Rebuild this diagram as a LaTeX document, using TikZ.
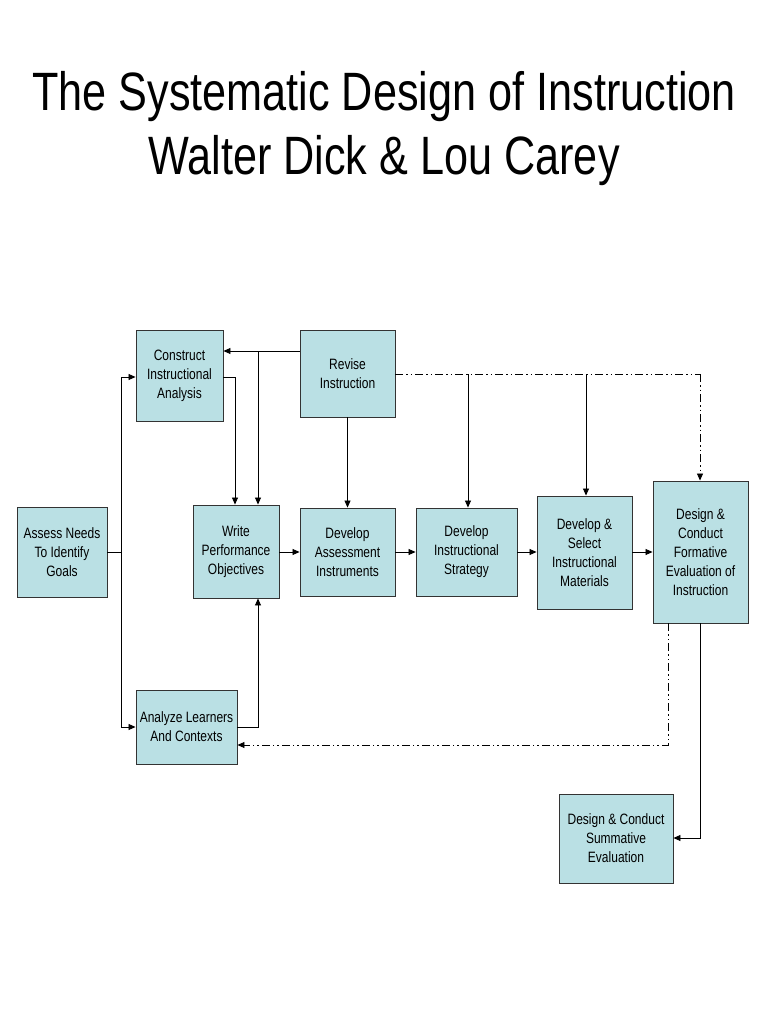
\documentclass[tikz,border=0pt]{standalone}
\usepackage{fontspec}
\setmainfont{Liberation Sans}[FakeStretch=0.8]
\usetikzlibrary{arrows.meta}
\definecolor{boxfill}{RGB}{186,224,228}
\tikzset{
  bx/.style={draw=black!80, line width=0.9pt, fill=boxfill, align=center, font=\fontsize{15}{19}\selectfont, inner sep=0pt},
  ar/.style={-{Triangle[length=7pt,width=6pt]}, line width=0.8pt},
  ln/.style={line width=0.8pt},
  dd/.style={line width=0.8pt, dash pattern=on 8pt off 3pt on 1.5pt off 3pt on 1.5pt off 3pt}
}
\begin{document}
\begin{tikzpicture}[x=1pt,y=-1pt]
\useasboundingbox (0,0) rectangle (768,1024);
\node[font=\fontsize{54}{64}\selectfont, align=center] (title) at (384,129) {The Systematic Design of Instruction\\Walter Dick \& Lou Carey};
\newcommand{\bxat}[6]{\node[bx, minimum width=#4-#2, minimum height=#5-#3] (#1) at ({(#2+#4)/2},{(#3+#5)/2}) {#6};}
\bxat{assess}{17}{507}{107}{597}{Assess Needs\\To Identify\\Goals}
\bxat{construct}{136}{330}{223}{421}{Construct\\Instructional\\Analysis}
\bxat{revise}{300}{330}{395}{417}{Revise\\Instruction}
\bxat{write}{193}{505}{279}{598}{Write\\Performance\\Objectives}
\bxat{devassess}{300}{508}{395}{596}{Develop\\Assessment\\Instruments}
\bxat{devstrat}{416}{508}{517}{596}{Develop\\Instructional\\Strategy}
\bxat{devsel}{537}{496}{632}{609}{Develop \&\\Select\\Instructional\\Materials}
\bxat{form}{653}{481}{748}{623}{Design \&\\Conduct\\Formative\\Evaluation of\\Instruction}
\bxat{analyze}{136}{690}{237}{764}{Analyze Learners\\And Contexts}
\bxat{summ}{559}{794}{673}{883}{Design \& Conduct\\Summative\\Evaluation}
% assess branches
\coordinate (j1) at (121,552);
\draw[ln] (assess.east) -- (j1);
\draw[ar] (j1) |- (construct.west |- 0,377);
\draw[ar] (j1) |- (analyze.west |- 0,727);
% construct -> write
\draw[ar] (construct.east |- 0,377) -| (write.north -| 235,0);
% revise -> construct, write
\draw[ar] (revise.west |- 0,351) -- (construct.east |- 0,351);
\draw[ar] (258,351) -- (write.north -| 258,0);
\draw[ar] (revise) -- (devassess);
% revise dash-dot to formative
\coordinate (rr) at (700,374);
\draw[dd] (revise.east |- 0,374) -- (rr);
\draw[ar, dash pattern=on 8pt off 3pt on 1.5pt off 3pt on 1.5pt off 3pt] (rr) -- (form.north -| rr);
\draw[ar] (468,374) -- (devstrat.north -| 468,0);
\draw[ar] (586,374) -- (devsel.north -| 586,0);
% horizontal chain
\draw[ar] (write.east |- 0,552) -- (devassess.west |- 0,552);
\draw[ar] (devassess.east |- 0,552) -- (devstrat.west |- 0,552);
\draw[ar] (devstrat.east |- 0,552) -- (devsel.west |- 0,552);
\draw[ar] (devsel.east |- 0,552) -- (form.west |- 0,552);
% analyze -> write
\draw[ar] (analyze.east |- 0,727) -| (write.south -| 258,0);
% formative feedback
\draw[ar, dash pattern=on 8pt off 3pt on 1.5pt off 3pt on 1.5pt off 3pt] (form.south -| 668,0) |- (analyze.east |- 0,745);
\draw[ar] (form.south -| 700,0) |- (summ.east |- 0,838);
\end{tikzpicture}
\end{document}
